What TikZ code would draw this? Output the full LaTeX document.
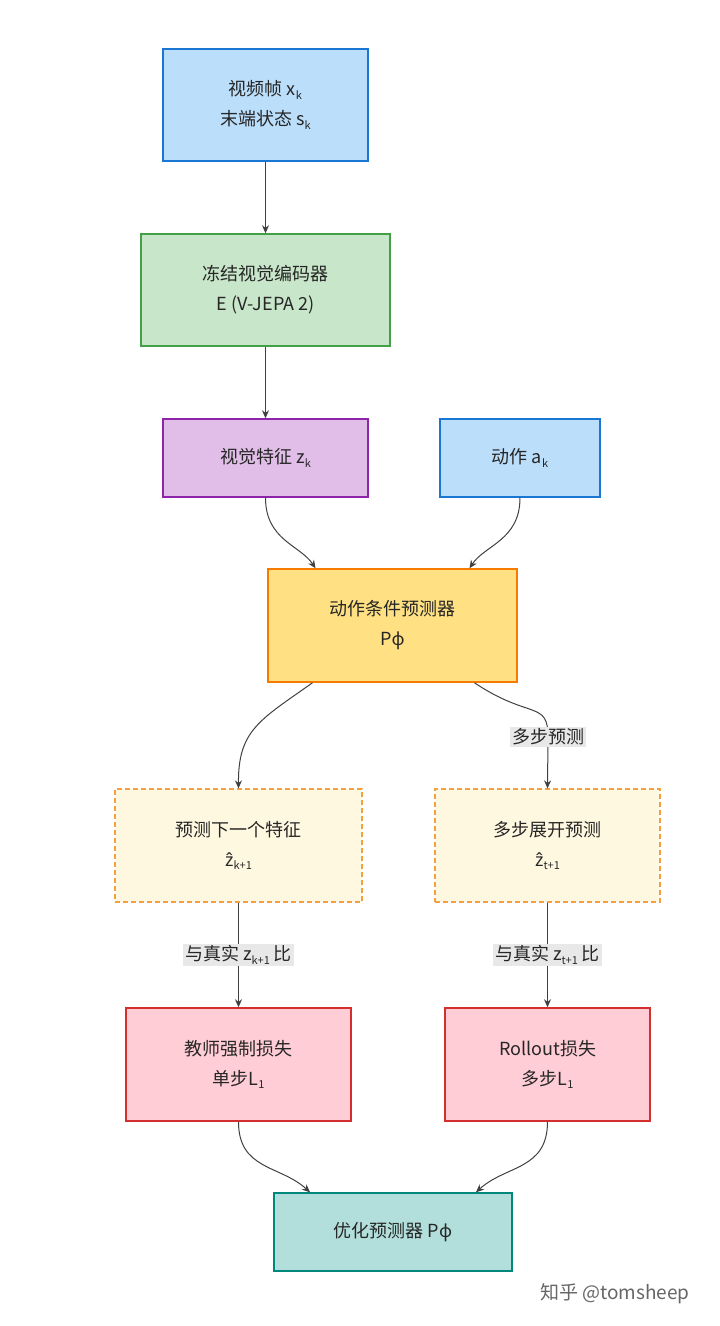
\documentclass[tikz,border=0pt]{standalone}
\usepackage{fontspec}
\setmainfont{Noto Sans CJK SC}
\newfontfamily\lat{Noto Sans}
\usetikzlibrary{arrows.meta}
\newcommand{\sbs}[1]{\raisebox{-0.35ex}{\fontsize{11}{12}\selectfont #1}}
\definecolor{bF}{HTML}{BBDEFB}\definecolor{bD}{HTML}{1976D2}
\definecolor{gF}{HTML}{C8E6C9}\definecolor{gD}{HTML}{43A047}
\definecolor{pF}{HTML}{E1BEE7}\definecolor{pD}{HTML}{8E24AA}
\definecolor{oF}{HTML}{FFE082}\definecolor{oD}{HTML}{F57C00}
\definecolor{yF}{HTML}{FFF8E1}\definecolor{yD}{HTML}{F5A040}
\definecolor{rF}{HTML}{FFCDD6}\definecolor{rD}{HTML}{D32F2F}
\definecolor{tF}{HTML}{B2DFDB}\definecolor{tD}{HTML}{00897B}
\definecolor{lbg}{HTML}{E8E8E8}
\tikzset{
 box/.style={draw=#1D,fill=#1F,line width=1.5pt,align=center,font=\fontsize{18}{30}\selectfont,text=black!85,inner sep=0pt},
 dbox/.style={draw=yD,fill=yF,line width=1.2pt,dashed,dash pattern=on 5pt off 3pt,align=center,font=\fontsize{18}{30}\selectfont,text=black!85,inner sep=0pt},
 arr/.style={-{Stealth[length=8pt,width=7pt]},line width=1pt,draw=black!75},
 lab/.style={fill=lbg,font=\fontsize{18}{22}\selectfont,text=black!85,inner sep=2pt}
}
\begin{document}
\begin{tikzpicture}[x=1pt,y=-1pt]
\useasboundingbox (0,0) rectangle (720,1326);
\node[box=b,minimum width=205pt,minimum height=112pt] (v) at (265.5,105) {视频帧 x\sbs{k}\\末端状态 s\sbs{k}};
\node[box=g,minimum width=249pt,minimum height=112pt] (e) at (265.5,290) {冻结视觉编码器\\E (V-JEPA 2)};
\node[box=p,minimum width=205pt,minimum height=78pt] (z) at (265.5,458) {视觉特征 z\sbs{k}};
\node[box=b,minimum width=160pt,minimum height=78pt] (a) at (520,458) {动作 a\sbs{k}};
\node[box=o,minimum width=249pt,minimum height=113pt] (p) at (392.5,625.5) {动作条件预测器\\P{\lat ϕ}};
\node[dbox,minimum width=247pt,minimum height=113pt] (n1) at (238.5,845.5) {预测下一个特征\\{\lat ẑ}\sbs{k+1}};
\node[dbox,minimum width=225pt,minimum height=113pt] (n2) at (547.5,845.5) {多步展开预测\\{\lat ẑ}\sbs{t+1}};
\node[box=r,minimum width=225pt,minimum height=113pt] (l1) at (238.5,1064.5) {教师强制损失\\单步L\sbs{1}};
\node[box=r,minimum width=205pt,minimum height=113pt] (l2) at (547.5,1064.5) {Rollout损失\\多步L\sbs{1}};
\node[box=t,minimum width=238pt,minimum height=78pt] (o) at (393,1232) {优化预测器 P{\lat ϕ}};
\draw[arr] (v) -- (e);
\draw[arr] (e) -- (z);
\draw[arr] (z.south) .. controls (265.5,540) and (300,545) .. ([xshift=-77pt]p.north);
\draw[arr] (a.south) .. controls (520,540) and (485,545) .. ([xshift=77pt]p.north);
\draw[arr] ([xshift=-80pt]p.south) .. controls (260,720) and (238,730) .. (n1.north);
\draw[arr] ([xshift=82pt]p.south) .. controls (530,720) and (548,700) .. (548,737) -- (n2.north);
\node[lab] (m) at (548,737) {多步预测};
\draw[arr] (n1) -- (l1) node[lab,midway] {与真实 z\sbs{k+1} 比};
\draw[arr] (n2) -- (l2) node[lab,midway] {与真实 z\sbs{t+1} 比};
\draw[arr] (l1.south) .. controls (238.5,1170) and (280,1165) .. ([xshift=-83pt]o.north);
\draw[arr] (l2.south) .. controls (547.5,1170) and (506,1165) .. ([xshift=83pt]o.north);
\node[font=\fontsize{19}{22}\selectfont,text=black!60] (w) at (615,1294) {知乎 @tomsheep};
\end{tikzpicture}
\end{document}
